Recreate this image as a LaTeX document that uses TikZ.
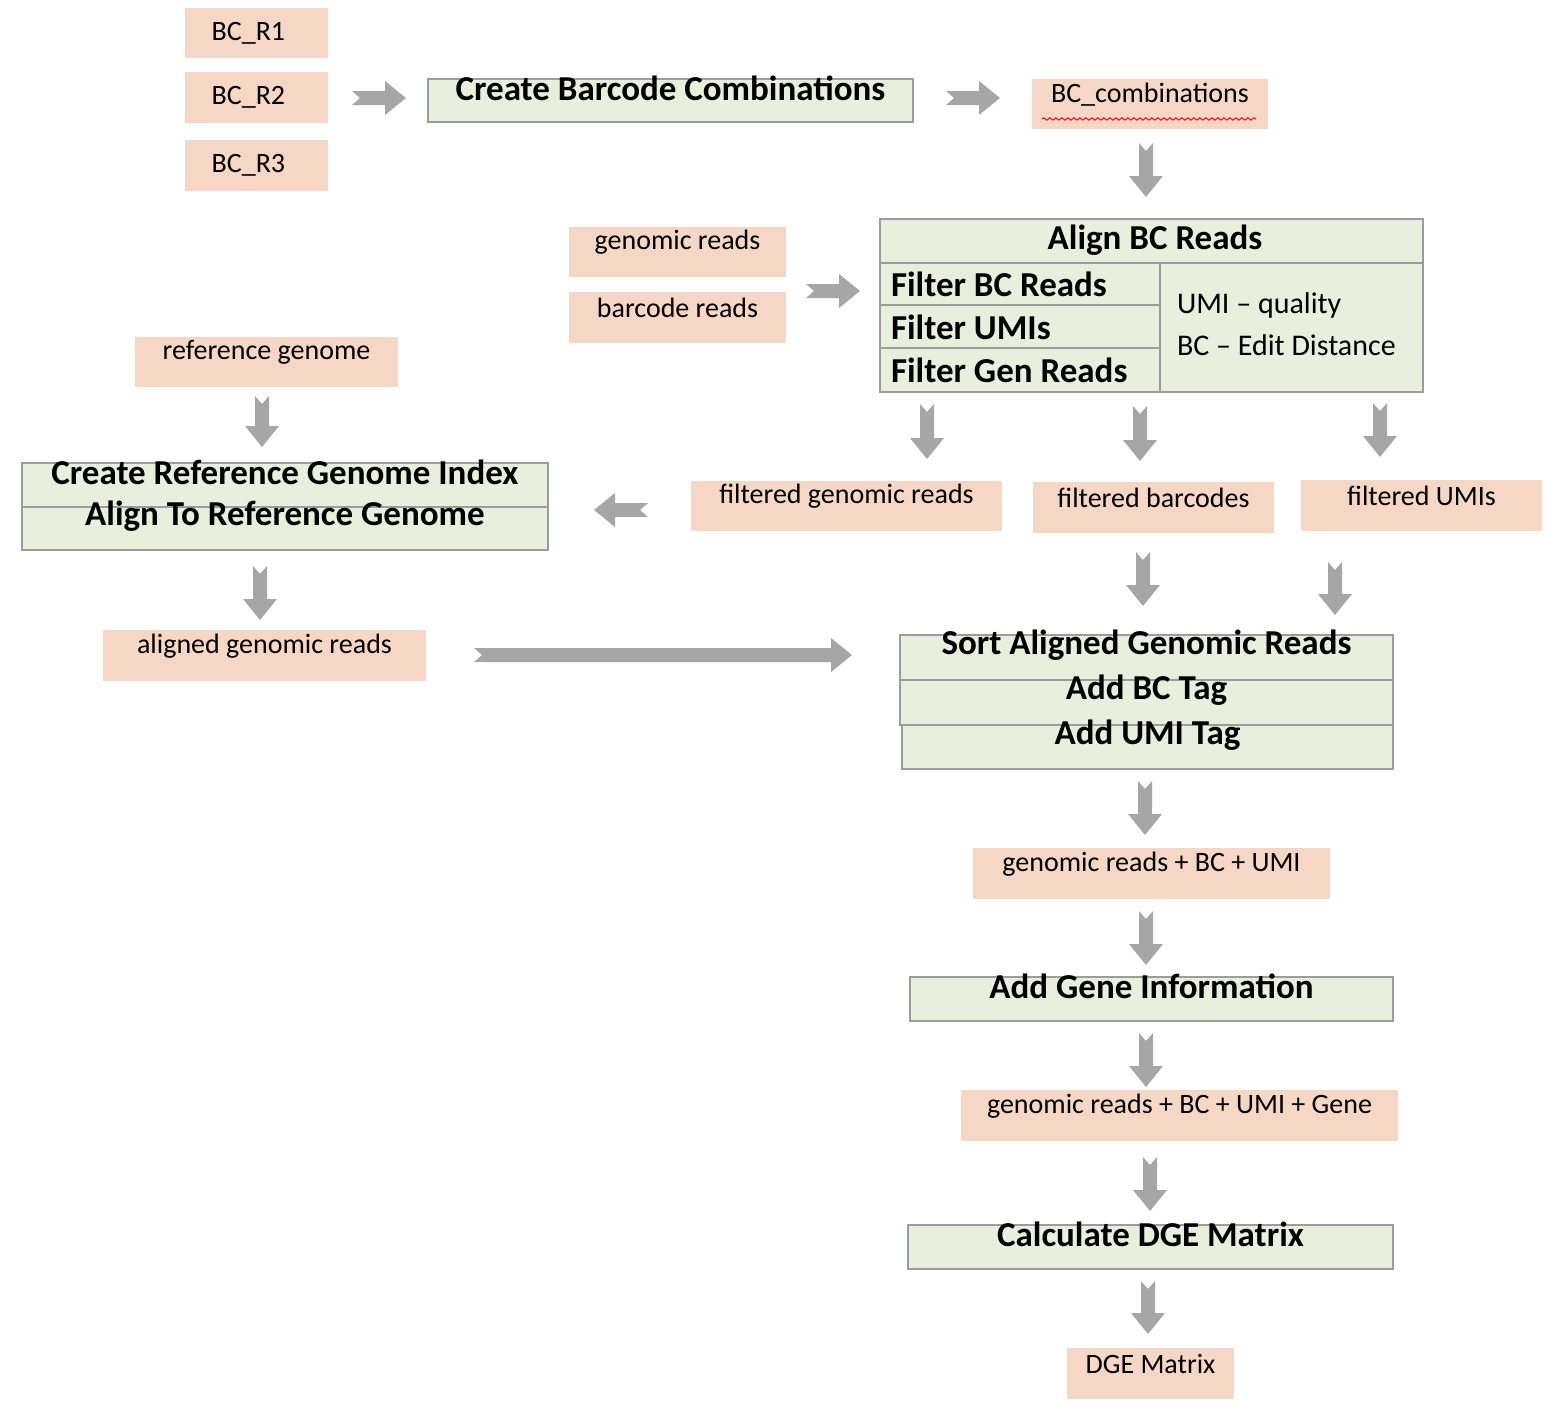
\documentclass[tikz,border=0pt]{standalone}
\usepackage{fontspec}
\setmainfont{Carlito}
\usetikzlibrary{fit,decorations.pathmorphing}
\definecolor{peach}{HTML}{F6D7C5}
\definecolor{pale}{HTML}{E8F0DD}
\definecolor{edge}{HTML}{9C9C9C}
\definecolor{arr}{HTML}{A6A6A6}
\tikzset{
  data/.style={fill=peach, draw=none, inner sep=0pt, font=\fontsize{14}{16}\selectfont},
  proc/.style={fill=pale, draw=edge, line width=0.8pt, inner sep=0pt, font=\bfseries\fontsize{17.5}{20}\selectfont},
  blk/.style={fill=arr, draw=none}
}
% horizontal block arrow: x1, x2, y
\newcommand\harr[3]{%
  \pgfmathsetmacro\hx{#2-((#2-#1)>0?1:-1)*21}%
  \pgfmathsetmacro\nx{#1+((#2-#1)>0?1:-1)*8}%
  \fill[blk] (#1,#3-7) -- (\hx,#3-7) -- (\hx,#3-17) -- (#2,#3) -- (\hx,#3+17) -- (\hx,#3+7) -- (#1,#3+7) -- (\nx,#3) -- cycle;}
% vertical block arrow: x, y1, y2 (downward)
\newcommand\varr[3]{%
  \fill[blk] (#1-7,#2) -- (#1,#2+8) -- (#1+7,#2) -- (#1+7,#3-21) -- (#1+17,#3-21) -- (#1,#3) -- (#1-17,#3-21) -- (#1-7,#3-21) -- cycle;}
\begin{document}
\begin{tikzpicture}[x=0.5pt,y=-0.5pt]
\useasboundingbox (0,0) rectangle (1555,1414);
% inputs
\node[data, fit={(185,8) (328,58)}] (r1) {};
\node[anchor=west, font=\fontsize{14}{16}\selectfont] at (r1.west) {\hspace{10pt}BC\_R1};
\node[data, fit={(185,72) (328,123)}] (r2) {};
\node[anchor=west, font=\fontsize{14}{16}\selectfont] at (r2.west) {\hspace{10pt}BC\_R2};
\node[data, fit={(185,140) (328,191)}] (r3) {};
\node[anchor=west, font=\fontsize{14}{16}\selectfont] at (r3.west) {\hspace{10pt}BC\_R3};
\harr{352}{406}{98}
\node[proc, fit={(428,79) (913,122)}] (cbc) {Create Barcode Combinations};
\harr{946}{1000}{98}
\node[data, fit={(1032,79) (1268,129)}] (bcc) {BC\_combinations};
\draw[red, line width=0.5pt, decorate, decoration={snake, amplitude=0.6pt, segment length=3pt}] (1042,119) -- (1256,119);
\varr{1146}{143}{197}
% align BC reads
\node[proc, fit={(880,219) (1423,392)}] (abc) {};
\node[font=\bfseries\fontsize{17.5}{20}\selectfont] at (1155,240) {Align BC Reads};
\draw[edge, line width=0.8pt] (880,263) -- (1423,263);
\draw[edge, line width=0.8pt] (1160,263) -- (1160,392);
\draw[edge, line width=0.8pt] (880,305) -- (1160,305);
\draw[edge, line width=0.8pt] (880,348) -- (1160,348);
\node[anchor=west, font=\bfseries\fontsize{17.5}{20}\selectfont] at (884,284) {Filter BC Reads};
\node[anchor=west, font=\bfseries\fontsize{17.5}{20}\selectfont] at (884,327) {Filter UMIs};
\node[anchor=west, font=\bfseries\fontsize{17.5}{20}\selectfont] at (884,370) {Filter Gen Reads};
\node[anchor=west, font=\fontsize{15}{17}\selectfont] at (1170,305) {UMI – quality};
\node[anchor=west, font=\fontsize{15}{17}\selectfont] at (1170,345) {BC – Edit Distance};
\node[data, fit={(569,227) (786,277)}] (gr) {genomic reads};
\node[data, fit={(569,292) (786,343)}] (br) {barcode reads};
\harr{806}{860}{291}
% reference
\node[data, fit={(135,337) (398,387)}] (rg) {reference genome};
\varr{262}{396}{447}
\node[proc, fit={(22,463) (548,507)}] (cri) {Create Reference Genome Index};
\node[proc, fit={(22,507) (548,550)}] (atr) {Align To Reference Genome};
\harr{648}{594}{510}
\node[data, fit={(691,481) (1002,531)}] (fgr) {filtered genomic reads};
\node[data, fit={(1033,482) (1274,533)}] (fbc) {filtered barcodes};
\node[data, fit={(1301,480) (1542,531)}] (fum) {filtered UMIs};
\varr{927}{404}{459}
\varr{1140}{406}{461}
\varr{1380}{403}{457}
\varr{260}{566}{620}
\node[data, fit={(103,630) (426,681)}] (agr) {aligned genomic reads};
\harr{474}{852}{655}
\varr{1143}{552}{606}
\varr{1335}{562}{615}
% tagging
\node[proc, fit={(900,635) (1393,680)}] (sort) {Sort Aligned Genomic Reads};
\node[proc, fit={(900,680) (1393,725)}] (tbc) {Add BC Tag};
\node[proc, fit={(902,725) (1393,769)}] (tum) {Add UMI Tag};
\varr{1145}{781}{835}
\node[data, fit={(973,848) (1330,899)}] (g1) {genomic reads + BC + UMI};
\varr{1146}{911}{965}
\node[proc, fit={(910,977) (1393,1021)}] (agi) {Add Gene Information};
\varr{1146}{1033}{1087}
\node[data, fit={(961,1090) (1398,1141)}] (g2) {genomic reads + BC + UMI + Gene};
\varr{1150}{1157}{1211}
\node[proc, fit={(908,1225) (1393,1269)}] (dge) {Calculate DGE Matrix};
\varr{1148}{1281}{1334}
\node[data, fit={(1067,1348) (1234,1399)}] (dm) {DGE Matrix};
\end{tikzpicture}
\end{document}
